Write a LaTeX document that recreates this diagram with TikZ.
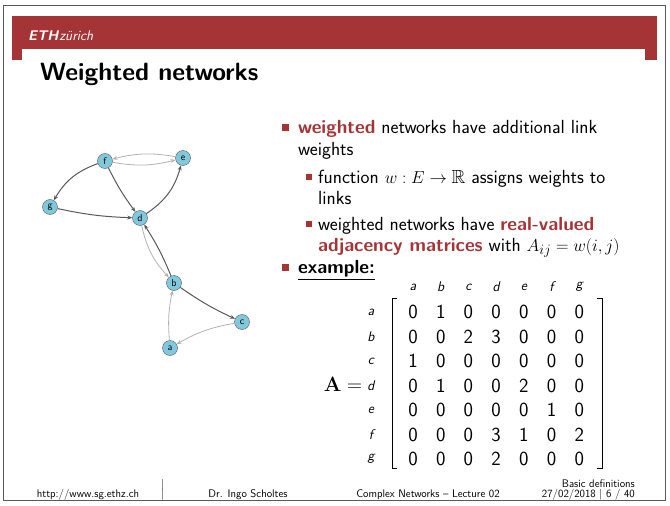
\documentclass[tikz,border=0pt]{standalone}
\usepackage{amssymb}
\usetikzlibrary{arrows.meta}
\definecolor{ethred}{RGB}{165,52,54}
\definecolor{nodeblue}{RGB}{130,200,220}
\begin{document}
\begin{tikzpicture}[x=1pt,y=-1pt,
  vert/.style={circle,draw=gray!70!black,fill=nodeblue,minimum size=15pt,inner sep=0pt,font=\sffamily\fontsize{10}{10}\selectfont},
  darkedge/.style={-{Stealth[length=5pt,width=4pt]},draw=black!65,line width=1pt},
  lightedge/.style={-{Stealth[length=5pt,width=4pt]},draw=black!30,line width=0.8pt},
  txt/.style={anchor=base west,inner sep=0pt,font=\sffamily\fontsize{19}{19}\selectfont},
  bul/.style={fill=ethred,minimum size=7pt,inner sep=0pt},
  sbul/.style={fill=ethred,minimum size=6pt,inner sep=0pt},
  ml/.style={font=\sffamily\itshape\fontsize{14}{14}\selectfont,inner sep=0pt},
  mv/.style={font=\sffamily\fontsize{20}{20}\selectfont,inner sep=0pt},
  foot/.style={font=\sffamily\fontsize{11}{11}\selectfont,inner sep=0pt,anchor=base}]
\useasboundingbox (0,0) rectangle (670,506);
\draw[gray!70!black,line width=1pt] (3,5) rectangle (665,500);
\fill[ethred] (12,16) rectangle (657,60);
\fill[white] (22,49) rectangle (645,62);
\node[anchor=base west,inner sep=0pt,text=white,font=\sffamily\fontsize{14}{14}\selectfont] (logo) at (28,41) {\textbf{\textit{ETH}}\textit{zürich}};
\node[anchor=base west,inner sep=0pt,font=\sffamily\bfseries\fontsize{25}{25}\selectfont] (title) at (40,80) {Weighted networks};
% graph
\node[vert] (f) at (105,161) {f};
\node[vert] (e) at (183,158) {e};
\node[vert] (g) at (50,207) {g};
\node[vert] (d) at (140,218) {d};
\node[vert] (b) at (174,283) {b};
\node[vert] (c) at (242,322) {c};
\node[vert] (a) at (170,348) {a};
\draw[lightedge] (f) to[bend right=12] (e);
\draw[lightedge] (e) to[bend right=12] (f);
\draw[darkedge] (f) to[bend right=20] (g);
\draw[darkedge] (f) to[bend right=5] (d);
\draw[darkedge] (g) to[bend right=5] (d);
\draw[darkedge] (d) to[bend right=20] (e);
\draw[lightedge] (d) to[bend right=15] (b);
\draw[darkedge] (b) to[bend right=5] (d);
\draw[darkedge] (b) to[bend right=5] (c);
\draw[lightedge] (c) to[bend right=10] (a);
\draw[lightedge] (a) to[bend left=8] (b);
% text
\node[bul] (b1) at (285,127) {};
\node[txt] (t1) at (298,133) {\textcolor{ethred}{\bfseries weighted} networks have additional link};
\node[txt] (t1b) at (298,155) {weights};
\node[sbul] (s1) at (309,177) {};
\node[txt] (t2) at (318,183) {function $w: E\rightarrow\mathbb{R}$ assigns weights to};
\node[txt] (t2b) at (318,204) {links};
\node[sbul] (s2) at (309,224) {};
\node[txt] (t3) at (318,230) {weighted networks have \textcolor{ethred}{\bfseries real-valued}};
\node[txt] (t3b) at (318,251) {\textcolor{ethred}{\bfseries adjacency matrices} with $A_{ij}=w(i,j)$};
\node[bul] (b2) at (285,267) {};
\node[txt] (t4) at (298,273) {\bfseries\underline{example:}};
% matrix
\foreach \l [count=\j] in {a,b,c,d,e,f,g}
  \node[ml] (c\l) at ({413+27.7*(\j-1)},287) {\l};
\foreach \l [count=\i] in {a,b,c,d,e,f,g}
  \node[ml] (r\l) at (371,{312+24.5*(\i-1)}) {\l};
\foreach \row [count=\i] in {{0,1,0,0,0,0,0},{0,0,2,3,0,0,0},{1,0,0,0,0,0,0},{0,1,0,0,2,0,0},{0,0,0,0,0,1,0},{0,0,0,3,1,0,2},{0,0,0,2,0,0,0}}{
  \foreach \v [count=\j] in \row
    \node[mv] (m\i\j) at ({413+27.7*(\j-1)},{312+24.5*(\i-1)}) {\v};
}
\draw[line width=1pt] (397,298) -- (392,298) -- (392,468) -- (397,468);
\draw[line width=1pt] (597,298) -- (602,298) -- (602,468) -- (597,468);
\node[font=\fontsize{20}{20}\selectfont,inner sep=0pt] (A) at (343,384) {$\mathbf{A}=$};
% footer
\node[foot] (f1) at (88,497) {http://www.sg.ethz.ch};
\node[foot] (f2) at (163,487) {|};
\node[foot] (f3) at (163,497) {|};
\node[foot] (f4) at (248,497) {Dr. Ingo Scholtes};
\node[foot] (f5) at (428,497) {Complex Networks -- Lecture 02};
\node[foot,anchor=base east] (f6) at (635,497) {27/02/2018 \textbar{} 6 / 40};
\node[foot,anchor=base east] (f7) at (635,487) {Basic definitions};
\end{tikzpicture}
\end{document}
